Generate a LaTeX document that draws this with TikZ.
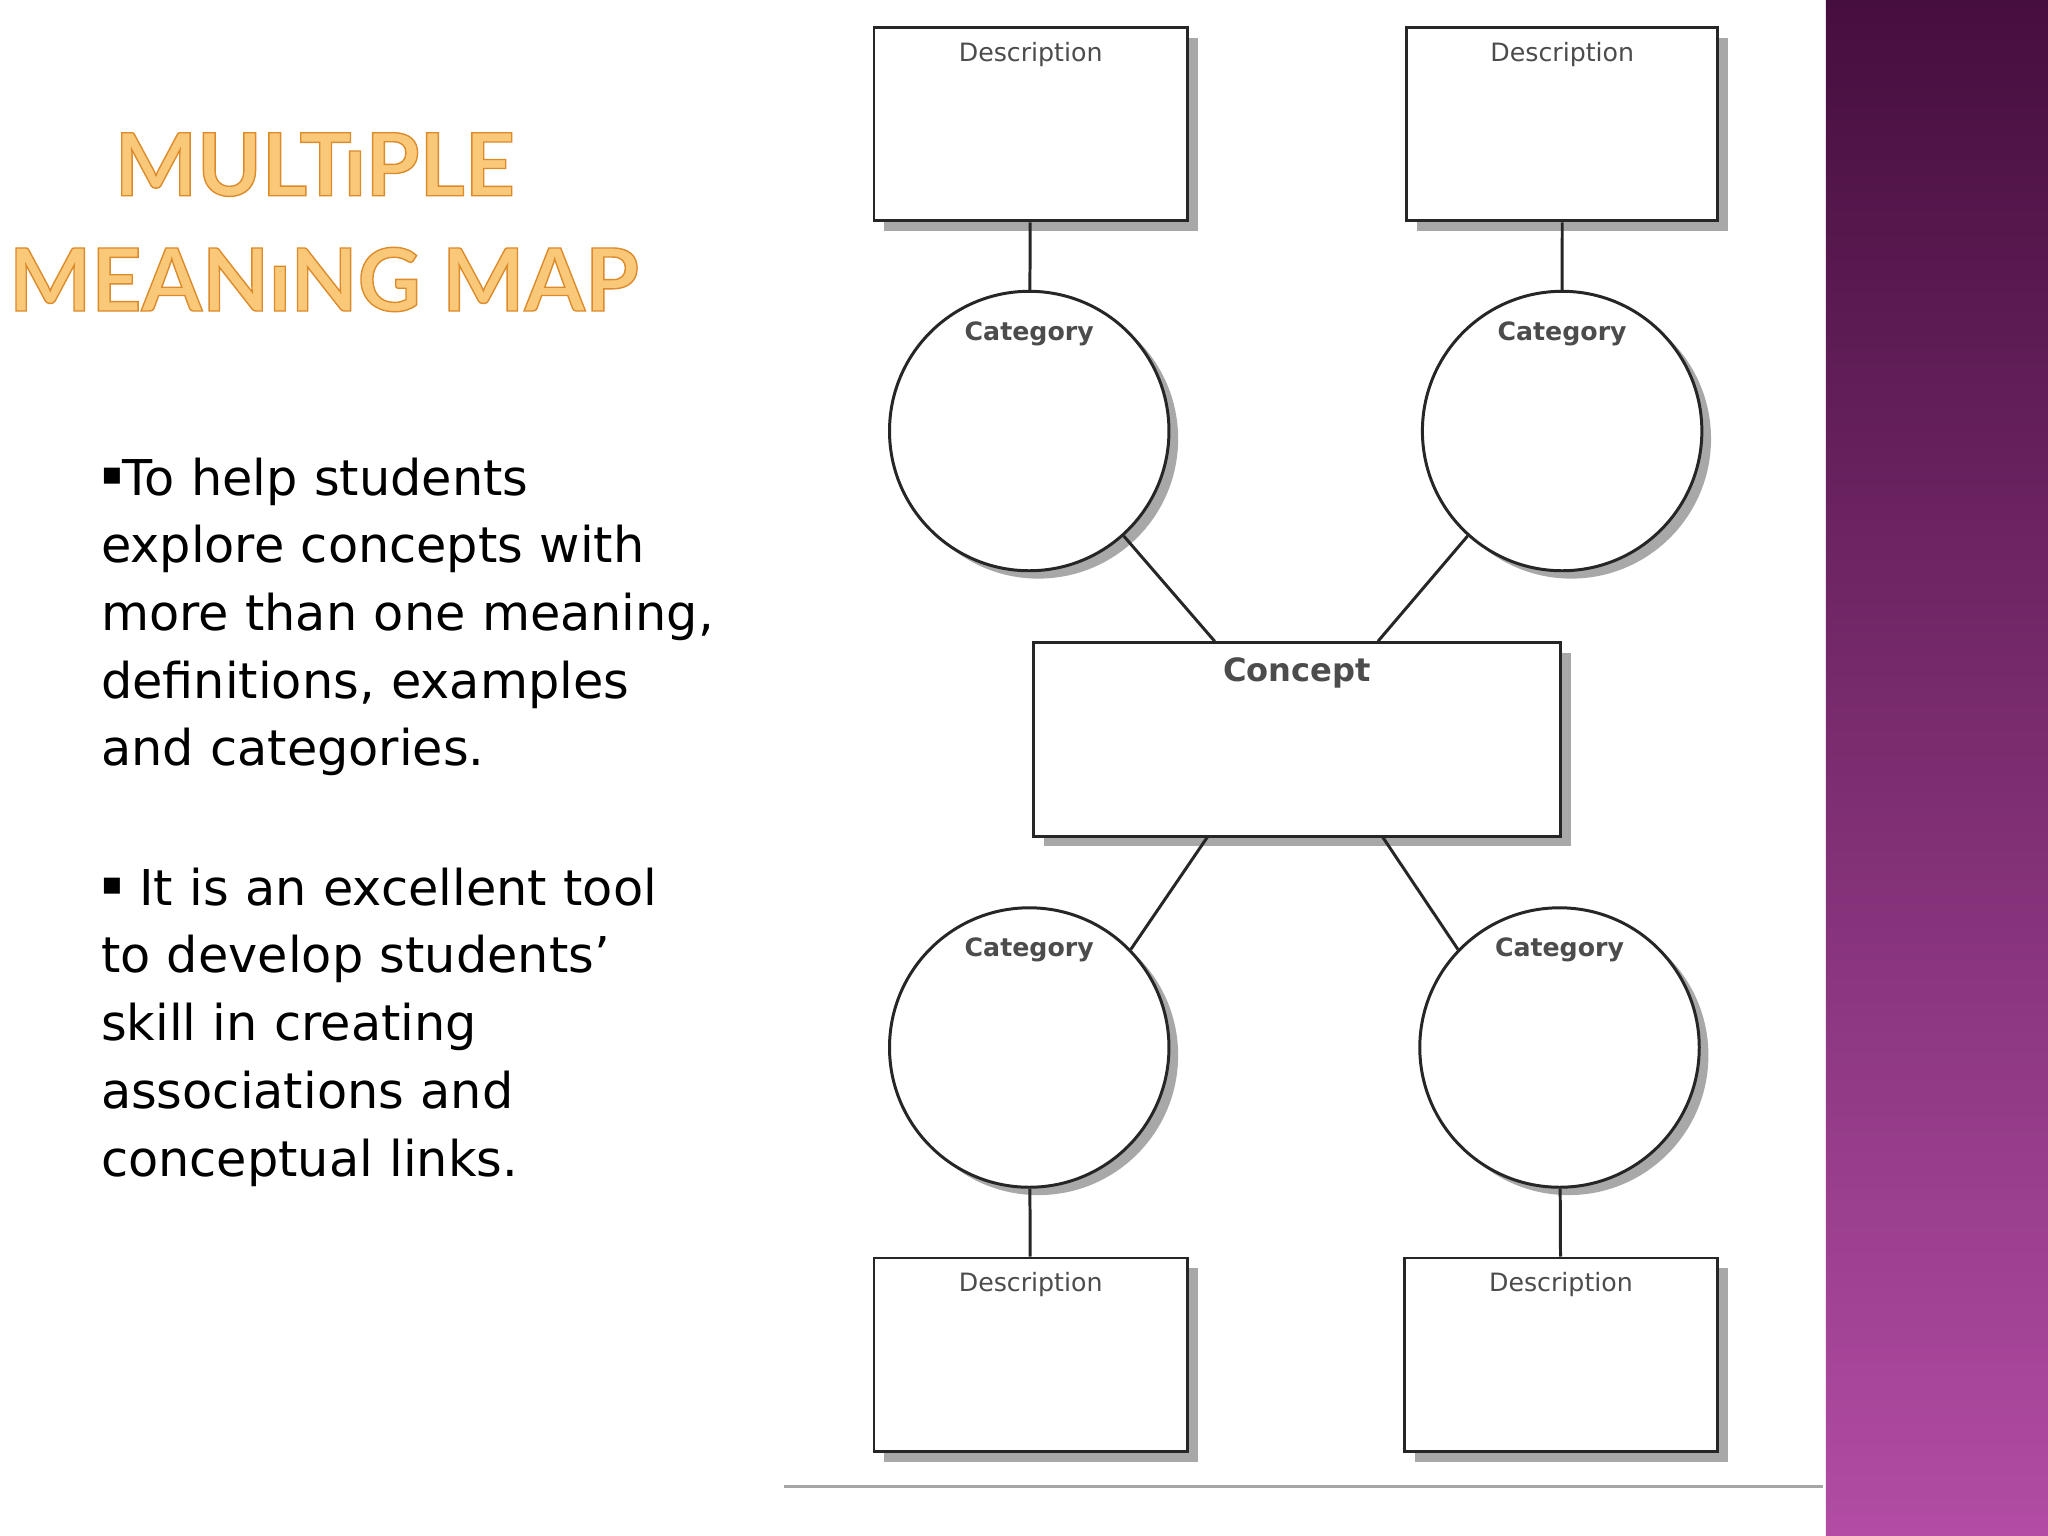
\documentclass[tikz,border=0pt]{standalone}
\usepackage{fontspec}
\setmainfont{DejaVu Sans}
\newfontfamily\titlefont{Lato}
\usetikzlibrary{calc}
\definecolor{shadowgray}{HTML}{A8A8A8}
\definecolor{ttlfill}{HTML}{F9C878}
\definecolor{ttlline}{HTML}{DC8A2A}
\newcommand{\sqb}{\raisebox{0.22em}{\fontsize{14}{14}\selectfont ▪}}
\tikzset{
  box/.style={draw=black!85,line width=1.3pt,fill=white,minimum width=4.8cm,minimum height=2.96cm,inner sep=0pt},
  circ/.style={draw=black!85,line width=1.3pt,fill=white,circle,minimum size=4.28cm,inner sep=0pt},
  lab/.style={font=\fontsize{11}{13}\selectfont,text=black!70,anchor=north},
  clab/.style={font=\bfseries\fontsize{11}{13}\selectfont,text=black!70,anchor=north},
  conn/.style={line width=1.3pt,black!85},
  ttl/.style={font=\titlefont\bfseries\fontsize{38}{42}\selectfont,text=ttlfill,draw=none},
  body/.style={font=\fontsize{21.5}{29.5}\selectfont,anchor=north west,align=left,text width=11cm,inner sep=0pt}
}
\begin{document}
\begin{tikzpicture}[x=0.02cm,y=-0.02cm]
\useasboundingbox (0,0) rectangle (1568,1176);
\fill[white] (0,0) rectangle (1568,1176);
\shade[top color={rgb,255:red,70;green,14;blue,62},bottom color={rgb,255:red,178;green,76;blue,164}] (1398,0) rectangle (1568,1176);
\draw[gray!70,line width=1pt] (600,1138) -- (1396,1138);
% title
\node[ttl] (t1) at (241,126) {\pgfsetstrokecolor{ttlline}\pgfsetlinewidth{0.6pt}\special{pdf:literal 2 Tr}MULTıPLE\special{pdf:literal 0 Tr}};
\node[ttl] (t2) at (248,214) {\pgfsetstrokecolor{ttlline}\pgfsetlinewidth{0.6pt}\special{pdf:literal 2 Tr}MEANıNG MAP\special{pdf:literal 0 Tr}};
% body
\node[body] (b1) at (77,350) {\sqb To help students\\explore concepts with\\more than one meaning,\\definitions, examples\\and categories.};
\node[body] (b2) at (77,664) {\sqb{} It is an excellent tool\\to develop students’\\skill in creating\\associations and\\conceptual links.};
% shadows
\foreach \x/\y/\w in {668/20/240,1076/20/238,790/491/404,668/962/240,1074/962/240}
  \fill[shadowgray] (\x+9,\y+9) rectangle (\x+\w+9,\y+157);
\foreach \x/\y in {788/330,1196/330,788/802,1194/802}
  \fill[shadowgray] (\x+7,\y+6) circle (107);
% nodes
\node[box,anchor=north west] (d1) at (668,20) {};
\node[box,anchor=north west,minimum width=4.76cm] (d2) at (1076,20) {};
\node[box,anchor=north west,minimum width=8.08cm] (con) at (790,491) {};
\node[box,anchor=north west] (d3) at (668,962) {};
\node[box,anchor=north west] (d4) at (1074,962) {};
\node[circ] (c1) at (788,330) {};
\node[circ] (c2) at (1196,330) {};
\node[circ] (c3) at (788,802) {};
\node[circ] (c4) at (1194,802) {};
% labels
\node[lab] at ($(d1.north)+(0,6)$) {Description};
\node[lab] at ($(d2.north)+(0,6)$) {Description};
\node[lab] at ($(d3.north)+(0,6)$) {Description};
\node[lab] at ($(d4.north)+(0,6)$) {Description};
\node[clab] at ($(c1.north)+(0,18)$) {Category};
\node[clab] at ($(c2.north)+(0,18)$) {Category};
\node[clab] at ($(c3.north)+(0,18)$) {Category};
\node[clab] at ($(c4.north)+(0,18)$) {Category};
\node[anchor=north,font=\bfseries\fontsize{14}{16}\selectfont,text=black!70] at ($(con.north)+(0,6)$) {Concept};
% connectors
\draw[conn] (d1) -- (c1);
\draw[conn] (d2) -- (c2);
\draw[conn] (c3) -- (d3);
\draw[conn] (c4) -- (d4);
\coordinate (k1) at (930,491);
\coordinate (k2) at (1055,491);
\coordinate (k3) at (925,640);
\coordinate (k4) at (1058,640);
\draw[conn] (c1.-48) -- (k1);
\draw[conn] (c2.-132) -- (k2);
\draw[conn] (k3) -- (c3.44);
\draw[conn] (k4) -- (c4.136);
\end{tikzpicture}
\end{document}
